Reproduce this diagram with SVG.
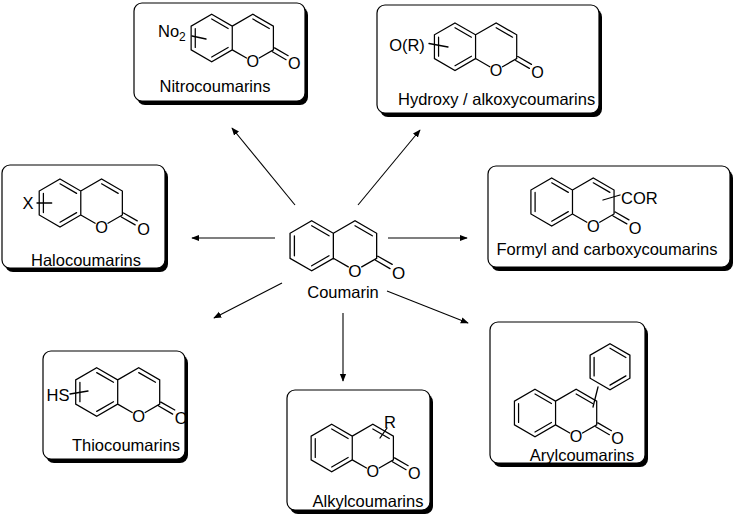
<svg xmlns="http://www.w3.org/2000/svg" xmlns:xlink="http://www.w3.org/1999/xlink" width="734" height="515" viewBox="0 0 734 515">
<style>
.b{fill:none;stroke:#000;stroke-width:1.3;stroke-linecap:round}
.t{font-family:"Liberation Sans",Arial,sans-serif;font-size:16.5px;fill:#000}
.box{fill:#fff;stroke:#000;stroke-width:1.2}
.sh{fill:#000}
.c{stroke:#000;stroke-width:1.1;fill:none}
</style>
<defs>
<marker id="ah" viewBox="0 0 10 10" refX="9" refY="5" markerWidth="8" markerHeight="8" markerUnits="userSpaceOnUse" orient="auto"><path d="M0,1 L10,5 L0,9 z" fill="#000"/></marker>
<g id="cm">
<path class="b" d="M0,-25 L21.65,-12.5 L21.65,12.5 L0,25 L-21.65,12.5 L-21.65,-12.5 Z M21.65,-12.5 L43.3,-25 L64.95,-12.5 L64.95,12.5 L50,21.1 M21.65,12.5 L36.6,21.1 M0,-20 L17.3,-10 M-17.3,10 L-17.3,-10 M17.3,10 L0,20 M43.3,-20 L60.6,-10 M66.2,10.4 L80.5,18.6 M63.9,14.5 L78.3,22.8"/>
<text class="t" x="43.3" y="31" text-anchor="middle" style="font-size:17px">O</text>
<text class="t" x="87" y="33" text-anchor="middle" style="font-size:17px">O</text>
</g>
</defs>
<g id="connectors">
<line class="c" x1="295" y1="205" x2="232" y2="128" marker-end="url(#ah)"/>
<line class="c" x1="358" y1="205" x2="420" y2="130" marker-end="url(#ah)"/>
<line class="c" x1="275" y1="238" x2="192" y2="238" marker-end="url(#ah)"/>
<line class="c" x1="388" y1="238" x2="467" y2="238" marker-end="url(#ah)"/>
<line class="c" x1="282" y1="283" x2="214" y2="318" marker-end="url(#ah)"/>
<line class="c" x1="343" y1="313" x2="343" y2="381" marker-end="url(#ah)"/>
<line class="c" x1="387" y1="291" x2="468" y2="323" marker-end="url(#ah)"/>
</g>
<g id="coumarin">
<use xlink:href="#cm" href="#cm" transform="translate(311.7,245.8)"/>
<text class="t" x="343" y="298" text-anchor="middle">Coumarin</text>
</g>
<g id="nitro">
<rect class="sh" x="137" y="7" width="171" height="98" rx="8"/>
<rect class="box" x="134" y="3" width="171" height="98" rx="8"/>
<use href="#cm" xlink:href="#cm" transform="translate(211.7,38) scale(0.95)"/>
<text class="t" x="158" y="37">No<tspan dy="4" style="font-size:12px">2</tspan></text>
<line class="b" x1="192" y1="36" x2="206" y2="39"/>
<text class="t" x="215" y="92" text-anchor="middle">Nitrocoumarins</text>
</g>
<g id="hydroxy">
<rect class="sh" x="380" y="9" width="222" height="108" rx="8"/>
<rect class="box" x="377" y="5" width="222" height="108" rx="8"/>
<use href="#cm" xlink:href="#cm" transform="translate(455,46.7) scale(0.95)"/>
<text class="t" x="407" y="51" text-anchor="middle">O(R)</text>
<line class="b" x1="429" y1="43.5" x2="448" y2="47"/>
<text class="t" x="398" y="105">Hydroxy / alkoxycoumarins</text>
</g>
<g id="halo">
<rect class="sh" x="5" y="169" width="163" height="103" rx="8"/>
<rect class="box" x="2" y="165" width="163" height="103" rx="8"/>
<use href="#cm" xlink:href="#cm" transform="translate(60,203) scale(0.96)"/>
<text class="t" x="28" y="209" text-anchor="middle">X</text>
<line class="b" x1="37" y1="203" x2="51.7" y2="203"/>
<text class="t" x="86" y="266" text-anchor="middle">Halocoumarins</text>
</g>
<g id="formyl">
<rect class="sh" x="491" y="170" width="242" height="101" rx="8"/>
<rect class="box" x="488" y="166" width="242" height="101" rx="8"/>
<use href="#cm" xlink:href="#cm" transform="translate(551.7,202) scale(0.96)"/>
<text class="t" x="621" y="204">COR</text>
<line class="b" x1="603" y1="200" x2="620" y2="195"/>
<text class="t" x="607" y="255" text-anchor="middle">Formyl and carboxycoumarins</text>
</g>
<g id="thio">
<rect class="sh" x="46" y="355" width="142" height="108" rx="8"/>
<rect class="box" x="43" y="351" width="142" height="108" rx="8"/>
<use href="#cm" xlink:href="#cm" transform="translate(96.7,392) scale(0.97)"/>
<text class="t" x="58" y="401" text-anchor="middle">HS</text>
<line class="b" x1="70" y1="394" x2="88" y2="391"/>
<text class="t" x="126" y="451" text-anchor="middle">Thiocoumarins</text>
</g>
<g id="alkyl">
<rect class="sh" x="290" y="394" width="143" height="120" rx="8"/>
<rect class="box" x="287" y="390" width="143" height="120" rx="8"/>
<use href="#cm" xlink:href="#cm" transform="translate(331.7,448) scale(0.95)"/>
<text class="t" x="390" y="428" text-anchor="middle">R</text>
<line class="b" x1="380" y1="438" x2="387" y2="428"/>
<text class="t" x="368" y="507" text-anchor="middle">Alkylcoumarins</text>
</g>
<g id="aryl">
<rect class="sh" x="493" y="326" width="155" height="141" rx="8"/>
<rect class="box" x="490" y="322" width="155" height="141" rx="8"/>
<use href="#cm" xlink:href="#cm" transform="translate(535,413) scale(0.95)"/>
<path class="b" d="M610,343.7 L629.9,355.2 L629.9,378.2 L610,389.7 L590.1,378.2 L590.1,355.2 Z M610,348.3 L625.9,357.5 M625.9,375.9 L610,385.1 M594.1,375.9 L594.1,357.5 M593,407 L598,387"/>
<text class="t" x="582" y="461" text-anchor="middle">Arylcoumarins</text>
</g>
</svg>
